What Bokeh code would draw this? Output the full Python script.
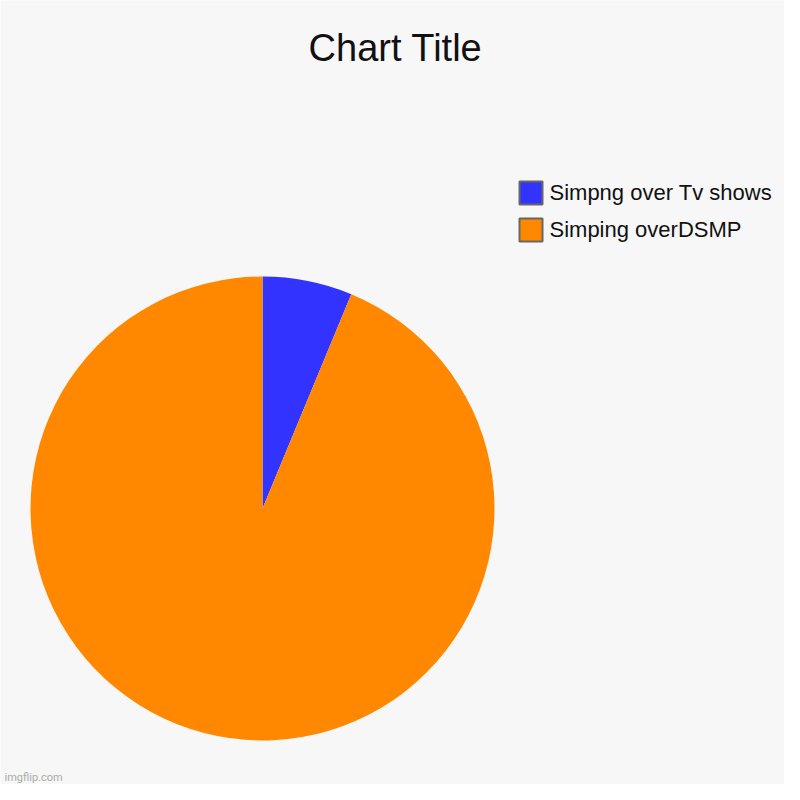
from math import pi
from bokeh.plotting import figure
from bokeh.models import Range1d, Label, ColumnDataSource
from bokeh.core.properties import value
from bokeh.embed import file_html
from bokeh.resources import INLINE

labels = ["Simpng over Tv shows", "Simping overDSMP"]
values = [1, 15]
colors = ["#3333ff", "#ff8800"]

W = H = 784
BG = "#f7f7f7"
FONT = "Liberation Sans"

cx, cy, r = 262, H - 508, 232

total = sum(values)
starts, ends = [], []
acc = 0.0
for v in values:
    a0 = pi / 2 - 2 * pi * acc / total
    acc += v
    a1 = pi / 2 - 2 * pi * acc / total
    starts.append(a1)
    ends.append(a0)

src = ColumnDataSource(dict(label=labels, value=values, color=colors,
                            start=starts, end=ends))

p = figure(width=W, height=H, output_backend="svg", toolbar_location=None,
           x_range=Range1d(0, W), y_range=Range1d(0, H),
           min_border=0, background_fill_color=BG, border_fill_color=BG,
           outline_line_color=None)
p.axis.visible = False
p.grid.visible = False

p.wedge(x=cx, y=cy, radius=r, start_angle="start", end_angle="end",
        fill_color="color", line_color=None, source=src)

# legend (manual, from the same arrays)
n = len(labels)
tops = [181 + 37 * i for i in range(n)]
leg = ColumnDataSource(dict(
    left=[519] * n, right=[542] * n,
    top=[H - t for t in tops], bottom=[H - t - 23 for t in tops],
    tx=[549] * n, ty=[H - t - 11 for t in tops],
    color=colors, label=labels))
p.quad(left="left", right="right", top="top", bottom="bottom",
       fill_color="color", line_color="#666666", line_width=2, source=leg)
p.text(x="tx", y="ty", text="label", source=leg, text_font=value(FONT),
       text_font_size="22px", text_baseline="middle", text_align="left",
       text_color="#111111")

p.add_layout(Label(x=395, y=H - 47, x_units="screen", y_units="screen",
                   text="Chart Title", text_font=FONT, text_font_size="38px",
                   text_align="center", text_baseline="middle",
                   text_color="#111111"))
p.add_layout(Label(x=4, y=H - 777, x_units="screen", y_units="screen",
                   text="imgflip.com", text_font="Roboto",
                   text_font_size="11px", text_align="left",
                   text_baseline="middle", text_color="#aaaaaa"))

open("out.html", "w").write(file_html(p, INLINE))
